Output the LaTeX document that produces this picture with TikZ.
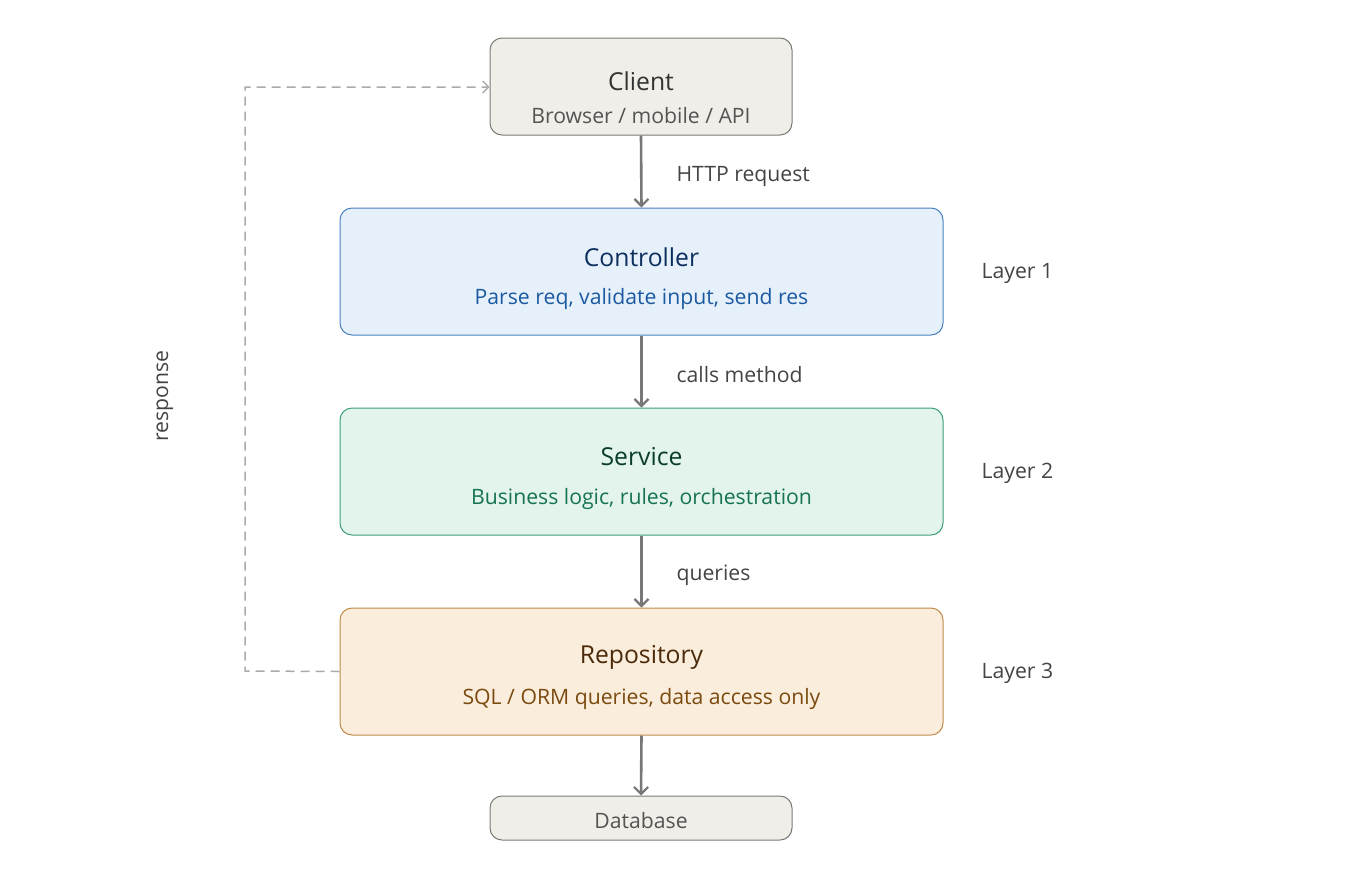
\documentclass[tikz,border=0pt]{standalone}
\usepackage{fontspec}
\setmainfont{Open Sans}
\usetikzlibrary{arrows.meta}
\definecolor{neutralfill}{HTML}{F0EEE8}
\definecolor{neutraldraw}{HTML}{7A7A74}
\definecolor{ctrlfill}{HTML}{E6F0FB}
\definecolor{ctrldraw}{HTML}{4A80C0}
\definecolor{ctrltitle}{HTML}{0C2F5E}
\definecolor{ctrlsub}{HTML}{1B5AA0}
\definecolor{svcfill}{HTML}{E2F4EC}
\definecolor{svcdraw}{HTML}{3E9E78}
\definecolor{svctitle}{HTML}{0B3D2A}
\definecolor{svcsub}{HTML}{17744F}
\definecolor{repfill}{HTML}{FBEDDB}
\definecolor{repdraw}{HTML}{C08A4A}
\definecolor{reptitle}{HTML}{4A2A0A}
\definecolor{repsub}{HTML}{7A4A0F}
\definecolor{arrowgray}{HTML}{777777}
\definecolor{dashgray}{HTML}{AAAAAA}
\definecolor{labelgray}{HTML}{444444}
\tikzset{
  x=1pt, y=-1pt,
  box/.style={rounded corners=12pt, line width=1pt, minimum width=603pt, minimum height=127pt, inner sep=0pt},
  smallbox/.style={rounded corners=12pt, line width=1pt, fill=neutralfill, draw=neutraldraw, minimum width=302pt, inner sep=0pt},
  titletext/.style={font=\fontsize{24.7}{29}\selectfont},
  subtext/.style={font=\fontsize{21.2}{25}\selectfont},
  lbl/.style={font=\fontsize{21.2}{25}\selectfont, text=labelgray, anchor=west},
  flow/.style={draw=arrowgray, line width=2.6pt, -{Straight Barb[length=7pt,width=14pt,line width=2.2pt]}},
  ret/.style={draw=dashgray, line width=1.5pt, dash pattern=on 9pt off 6pt, -{Straight Barb[length=6pt,width=12pt,line width=1.3pt]}}
}
\begin{document}
\begin{tikzpicture}
\useasboundingbox (0,0) rectangle (1358,868);
\node[smallbox, minimum height=97pt] (client) at (641,86.5) {};
\node[titletext, text=black!80] at (641,81) {Client};
\node[subtext, text=black!67] at (641,116) {Browser / mobile / API};

\node[box, fill=ctrlfill, draw=ctrldraw] (ctrl) at (641.5,271.5) {};
\node[titletext, text=ctrltitle] at (641.5,257) {Controller};
\node[subtext, text=ctrlsub] at (641.5,299) {Parse req, validate input, send res};

\node[box, fill=svcfill, draw=svcdraw] (svc) at (641.5,471.5) {};
\node[titletext, text=svctitle] at (641.5,457) {Service};
\node[subtext, text=svcsub] at (641.5,499) {Business logic, rules, orchestration};

\node[box, fill=repfill, draw=repdraw] (repo) at (641.5,671.5) {};
\node[titletext, text=reptitle] at (641.5,657) {Repository};
\node[subtext, text=repsub] at (641.5,699) {SQL / ORM queries, data access only};

\node[smallbox, minimum height=44pt] (db) at (641,818) {};
\node[subtext, text=black!67] at (641,821) {Database};

\draw[flow] (client.south) -- (ctrl.north);
\draw[flow] (ctrl.south) -- (svc.north);
\draw[flow] (svc.south) -- (repo.north);
\draw[flow] (repo.south) -- (db.north);

\node[lbl] (l1) at (673,176) {HTTP request};
\node[lbl] (l2) at (673,375) {calls method};
\node[lbl] (l3) at (673,575) {queries};

\node[lbl] (lay1) at (978,273) {Layer 1};
\node[lbl] (lay2) at (978,473) {Layer 2};
\node[lbl] (lay3) at (978,673) {Layer 3};

\coordinate (c1) at (245,671);
\coordinate (c2) at (245,87);
\draw[ret] (repo.west) -- (c1) -- (c2) -- (client.west |- c2);
\node[lbl, anchor=center, rotate=90] (resp) at (165,396) {response};
\end{tikzpicture}
\end{document}
